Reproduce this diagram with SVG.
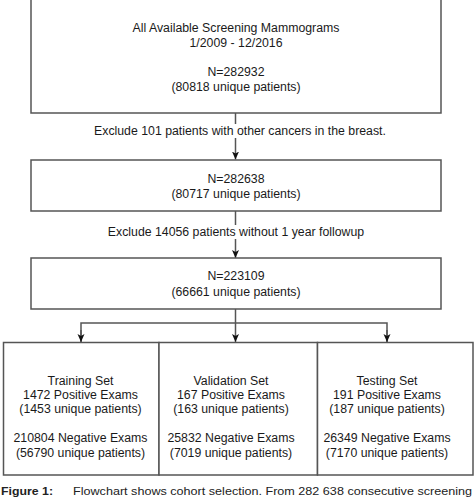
<svg xmlns="http://www.w3.org/2000/svg" width="474" height="497" viewBox="0 0 474 497">
<defs>
<style>
.box{fill:#fff;stroke:#555;stroke-width:1.5}
.ln{fill:none;stroke:#555;stroke-width:1.5}
text{font-family:"Liberation Sans",Arial,sans-serif;font-size:12.3px;fill:#1a1a1a;text-anchor:middle}
.lbl{fill:#fff;stroke:none}
.cap{font-family:"Liberation Sans Narrow","Liberation Sans",sans-serif;font-size:11.5px;fill:#222;text-anchor:start}
</style>
<marker id="ah" markerWidth="8" markerHeight="8" viewBox="0 0 8 8" refX="8" refY="4" orient="auto" markerUnits="userSpaceOnUse">
<path d="M0,0.5 L8,4 L0,7.5 L2,4 Z" fill="#111"/>
</marker>
</defs>
<rect width="474" height="497" fill="#fff"/>
<g id="connectors">
<line class="ln" x1="235.5" y1="113" x2="235.5" y2="159.5" marker-end="url(#ah)"/>
<line class="ln" x1="235.5" y1="211" x2="235.5" y2="258" marker-end="url(#ah)"/>
<line class="ln" x1="235.5" y1="309" x2="235.5" y2="342" marker-end="url(#ah)"/>
<polyline class="ln" points="81,342 81,323 387,323 387,342"/>
<line class="ln" x1="81" y1="330" x2="81" y2="342" marker-end="url(#ah)"/>
<line class="ln" x1="387" y1="330" x2="387" y2="342" marker-end="url(#ah)"/>
<g id="label1">
<rect class="lbl" x="93" y="124" width="294" height="14"/>
<text x="240" y="134.5">Exclude 101 patients with other cancers in the breast.</text>
</g>
<g id="label2">
<rect class="lbl" x="107" y="225" width="258" height="14"/>
<text x="236" y="235.5">Exclude 14056 patients without 1 year followup</text>
</g>
</g>
<g id="node-all">
<rect class="box" x="31" y="-5" width="410" height="118"/>
<text x="236" y="32">All Available Screening Mammograms</text>
<text x="236" y="46.5">1/2009 - 12/2016</text>
<text x="236" y="76">N=282932</text>
<text x="236" y="90.5">(80818 unique patients)</text>
</g>
<g id="node-n2">
<rect class="box" x="31" y="160" width="410" height="51"/>
<text x="236" y="182.5">N=282638</text>
<text x="236" y="197.5">(80717 unique patients)</text>
</g>
<g id="node-n3">
<rect class="box" x="31" y="258" width="410" height="51"/>
<text x="236" y="280">N=223109</text>
<text x="236" y="295.5">(66661 unique patients)</text>
</g>
<g id="node-training">
<rect class="box" x="3.5" y="342.5" width="155.5" height="132.5"/>
<text x="80.5" y="384.5">Training Set</text>
<text x="80.5" y="398.5">1472 Positive Exams</text>
<text x="80.5" y="413">(1453 unique patients)</text>
<text x="80.5" y="442">210804 Negative Exams</text>
<text x="80.5" y="457">(56790 unique patients)</text>
</g>
<g id="node-validation">
<rect class="box" x="159" y="342.5" width="158.5" height="132.5"/>
<text x="231" y="384.5">Validation Set</text>
<text x="231" y="398.5">167 Positive Exams</text>
<text x="231" y="413">(163 unique patients)</text>
<text x="231" y="442">25832 Negative Exams</text>
<text x="231" y="457">(7019 unique patients)</text>
</g>
<g id="node-testing">
<rect class="box" x="317.5" y="342.5" width="155.5" height="132.5"/>
<text x="387" y="384.5">Testing Set</text>
<text x="387" y="398.5">191 Positive Exams</text>
<text x="387" y="413">(187 unique patients)</text>
<text x="387" y="442">26349 Negative Exams</text>
<text x="387" y="457">(7170 unique patients)</text>
</g>
<g id="caption">
<text class="cap" x="1" y="494.5" font-weight="bold" textLength="52" lengthAdjust="spacingAndGlyphs">Figure 1:</text>
<text class="cap" x="73" y="494.5" textLength="399" lengthAdjust="spacingAndGlyphs">Flowchart shows cohort selection. From 282 638 consecutive screening</text>
</g>
</svg>
